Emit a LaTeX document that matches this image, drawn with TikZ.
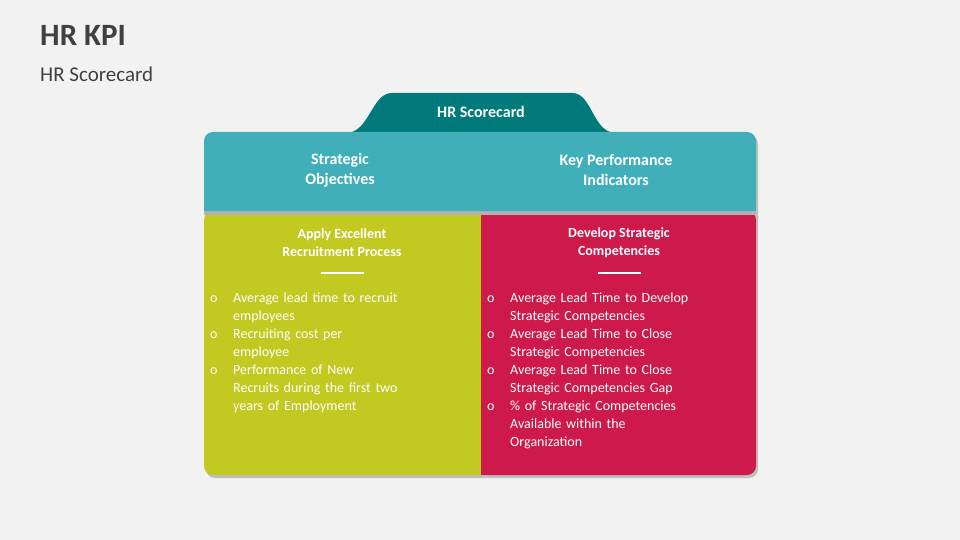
\documentclass[tikz,border=0pt]{standalone}
\usepackage{fontspec}
\setmainfont{Carlito}
\definecolor{teal1}{HTML}{41AFBA}
\definecolor{teal2}{HTML}{007A7A}
\definecolor{grn}{HTML}{C2C921}
\definecolor{rd}{HTML}{CE1A4A}
\definecolor{ttl}{HTML}{404040}
\begin{document}
\begin{tikzpicture}[x=1pt,y=-1pt,
  hdr/.style={text=white,font=\fontsize{16}{20}\selectfont\bfseries,align=center},
  sub/.style={text=white,font=\fontsize{14}{18}\selectfont\bfseries,align=center},
  body/.style={text=white,font=\fontsize{14}{18}\selectfont,anchor=north west,text width=260pt,align=left,inner sep=0pt}]
\fill[white!95!black] (0,0) rectangle (960,540);
\useasboundingbox (0,0) rectangle (960,540);
\node[anchor=west,text=ttl,font=\fontsize{31}{32}\selectfont\bfseries,inner sep=0] (t) at (40,35) {HR KPI};
\node[anchor=west,text=ttl,font=\fontsize{21}{22}\selectfont,inner sep=0] (st) at (40,74) {HR Scorecard};
% shadow
\fill[black!25] (206,135) [rounded corners=9pt] -- (758,135) -- (758,478) -- (206,478) -- cycle;
% tab
\fill[teal2] (348,133) .. controls (370,130) and (372,93) .. (392,93) -- (572,93) .. controls (592,93) and (592,130) .. (614,133) -- cycle;
\node[hdr] (tab) at (481,112) {HR Scorecard};
% lower
\fill[grn] (481,211) -- (481,475) [rounded corners=9pt] -- (204,475) -- (204,211) [sharp corners] -- cycle;
\fill[rd] (481,211) -- (481,475) [rounded corners=9pt] -- (756,475) -- (756,211) [sharp corners] -- cycle;
\fill[black!30] (204,211) rectangle (756,215);
% header
\fill[teal1,rounded corners=9pt] (204,211) -- (204,132) -- (756,132) -- (756,211) [sharp corners] -- cycle;
\fill[teal1] (204,200) rectangle (756,211);
\node[hdr] (h1) at (340,170) {Strategic\\Objectives};
\node[hdr] (h2) at (616,170) {Key Performance\\Indicators};
\node[sub] (s1) at (342,243) {Apply Excellent\\Recruitment Process};
\node[sub] (s2) at (619,243) {Develop Strategic\\Competencies};
\draw[white,line width=1.2pt] (321,273) -- (364,273);
\draw[white,line width=1.2pt] (598,273) -- (641,273);
\node[body] (b1) at (210,293) {%
\makebox[23pt][l]{o}Average lead time to recruit\\\hspace*{23pt}employees\\
\makebox[23pt][l]{o}Recruiting cost per\\\hspace*{23pt}employee\\
\makebox[23pt][l]{o}Performance of New\\\hspace*{23pt}Recruits during the first two\\\hspace*{23pt}years of Employment};
\node[body] (b2) at (487,293) {%
\makebox[23pt][l]{o}Average Lead Time to Develop\\\hspace*{23pt}Strategic Competencies\\
\makebox[23pt][l]{o}Average Lead Time to Close\\\hspace*{23pt}Strategic Competencies\\
\makebox[23pt][l]{o}Average Lead Time to Close\\\hspace*{23pt}Strategic Competencies Gap\\
\makebox[23pt][l]{o}\% of Strategic Competencies\\\hspace*{23pt}Available within the\\\hspace*{23pt}Organization};
\end{tikzpicture}
\end{document}
